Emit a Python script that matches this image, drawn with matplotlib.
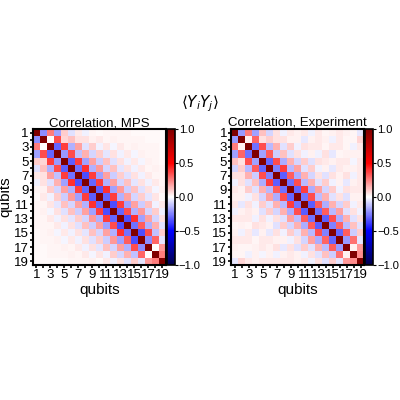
import numpy as np
import matplotlib
matplotlib.use('Agg')
import matplotlib.pyplot as plt

plt.rcParams['font.family'] = ['Liberation Sans', 'DejaVu Sans']
plt.rcParams['mathtext.fontset'] = 'dejavusans'

n_qubits = 19
qubits = list(range(1, n_qubits + 1))
cbar_ticks = [-1.0, -0.5, 0.0, 0.5, 1.0]
titles = ['Correlation, MPS', 'Correlation, Experiment']

# <Y_i Y_j>, listed by distance from the diagonal (d1 = neighbours, ...)
mps_diags = [
    [-0.22, 0.0, -0.3, -0.2, -0.32, -0.28, -0.35, -0.3, -0.32, -0.3, -0.35, -0.3, -0.35, -0.28, -0.35, -0.22, 0.0, 0.25],
    [0.25, 0.35, 0.38, 0.35, 0.38, 0.4, 0.38, 0.38, 0.4, 0.38, 0.38, 0.35, 0.4, 0.32, 0.35, 0.3, 0.2],
    [-0.18, 0.08, -0.15, -0.12, -0.18, -0.15, -0.18, -0.15, -0.18, -0.15, -0.18, -0.15, -0.18, -0.15, -0.12, -0.05],
    [0.1, 0.12, 0.18, 0.15, 0.18, 0.2, 0.18, 0.18, 0.2, 0.18, 0.18, 0.2, 0.18, 0.15, 0.1],
    [-0.06, 0.06, -0.06, -0.08, -0.1, -0.08, -0.1, -0.08, -0.1, -0.08, -0.1, -0.08, -0.08, -0.06],
    [0.04, 0.06, 0.1, 0.1, 0.12, 0.12, 0.1, 0.12, 0.12, 0.1, 0.12, 0.1, 0.06],
    [-0.03, 0.03, -0.03, -0.05, -0.06, -0.05, -0.06, -0.05, -0.06, -0.05, -0.03, -0.03],
    [0.02, 0.04, 0.05, 0.06, 0.06, 0.06, 0.06, 0.06, 0.06, 0.05, 0.04],
    [0.01, 0.02, -0.02, -0.03, -0.03, -0.03, -0.03, -0.03, -0.02, 0.01],
    [0.02, 0.03, 0.04, 0.04, 0.04, 0.04, 0.04, 0.04, 0.03],
    [0.02, 0.02, 0.02, -0.02, -0.02, 0.02, 0.02, 0.02],
    [0.02, 0.02, 0.03, 0.03, 0.03, 0.03, 0.02],
    [0.02, 0.02, 0.02, 0.02, 0.02, 0.02],
    [0.01, 0.02, 0.02, 0.02, 0.01],
    [0.01, 0.01, 0.02, 0.01],
    [0.01, 0.01, 0.01],
    [0.01, 0.01],
    [0.01],
]

exp_diags = [
    [-0.2, 0.03, -0.28, -0.18, -0.3, -0.25, -0.32, -0.28, -0.3, -0.27, -0.32, -0.28, -0.32, -0.25, -0.3, -0.2, 0.03, 0.22],
    [0.25, 0.3, 0.35, 0.32, 0.35, 0.38, 0.32, 0.35, 0.38, 0.35, 0.32, 0.32, 0.35, 0.3, 0.32, 0.28, 0.2],
    [-0.18, 0.06, -0.14, -0.1, -0.16, -0.14, -0.16, -0.14, -0.16, -0.13, -0.16, -0.14, -0.16, -0.13, -0.1, -0.05],
    [0.12, 0.1, 0.15, 0.12, 0.15, 0.18, 0.15, 0.15, 0.18, 0.15, 0.15, 0.18, 0.15, 0.12, 0.1],
    [-0.08, 0.06, -0.06, -0.06, -0.08, -0.06, -0.08, -0.06, -0.08, -0.06, -0.08, -0.06, -0.06, -0.06],
    [0.06, 0.06, 0.1, 0.06, 0.1, 0.1, 0.06, 0.1, 0.1, 0.06, 0.1, 0.06, 0.06],
    [-0.03, 0.03, -0.03, -0.03, -0.06, -0.03, -0.06, -0.03, -0.03, -0.06, -0.03, -0.03],
    [0.04, 0.03, 0.06, 0.03, 0.06, 0.03, 0.06, 0.03, 0.06, 0.03, 0.04],
    [0.03, -0.04, 0.04, -0.03, 0.04, -0.04, 0.03, -0.04, 0.04, 0.03],
    [0.04, 0.03, 0.04, 0.06, 0.03, 0.04, 0.06, 0.03, 0.04],
    [-0.03, 0.04, 0.02, -0.04, 0.04, 0.03, -0.03, 0.04],
    [0.04, 0.03, 0.04, 0.02, 0.04, 0.03, 0.04],
    [0.02, -0.03, 0.04, 0.03, -0.02, 0.04],
    [0.03, 0.04, 0.02, 0.03, 0.04],
    [0.04, 0.02, -0.03, 0.03],
    [0.03, 0.02, 0.04],
    [0.02, 0.08],
    [-0.04],
]


def build_matrix(diags):
    m = np.eye(n_qubits)
    for k, d in enumerate(diags, start=1):
        m += np.diag(d, k) + np.diag(d, -k)
    return m


mats = [build_matrix(mps_diags), build_matrix(exp_diags)]

fig = plt.figure(figsize=(4, 4), dpi=100)
fig.text(0.5, 0.742, r'$\langle Y_iY_j\rangle$', ha='center', va='center', fontsize=11)

panel_left = [0.0825, 0.578]
for p in range(2):
    ax = fig.add_axes([panel_left[p], 0.3375, 0.332, 0.34])
    im = ax.imshow(mats[p], cmap='seismic', vmin=-1, vmax=1, interpolation='nearest',
                   extent=[0.5, n_qubits + 0.5, n_qubits + 0.5, 0.5], aspect='auto')
    ax.set_xticks(qubits)
    ax.set_yticks(qubits)
    ax.set_xticklabels([str(q) if q % 2 == 1 else '' for q in qubits])
    ax.set_yticklabels([str(q) if q % 2 == 1 else '' for q in qubits])
    ax.tick_params(length=2, width=1.2, pad=1, labelsize=9.5)
    for s in ax.spines.values():
        s.set_linewidth(1.5)
    ax.set_title(titles[p], fontsize=9.5, pad=2)
    ax.set_xlabel('qubits', fontsize=11, labelpad=1)
    if p == 0:
        ax.set_ylabel('qubits', fontsize=11, labelpad=1)
    cax = fig.add_axes([panel_left[p] + 0.334, 0.3375, 0.02, 0.34])
    cb = fig.colorbar(im, cax=cax, ticks=cbar_ticks)
    cb.ax.tick_params(labelsize=8, length=2, pad=1)
    cb.outline.set_linewidth(1.2)

fig.savefig('out.png', dpi=100)
